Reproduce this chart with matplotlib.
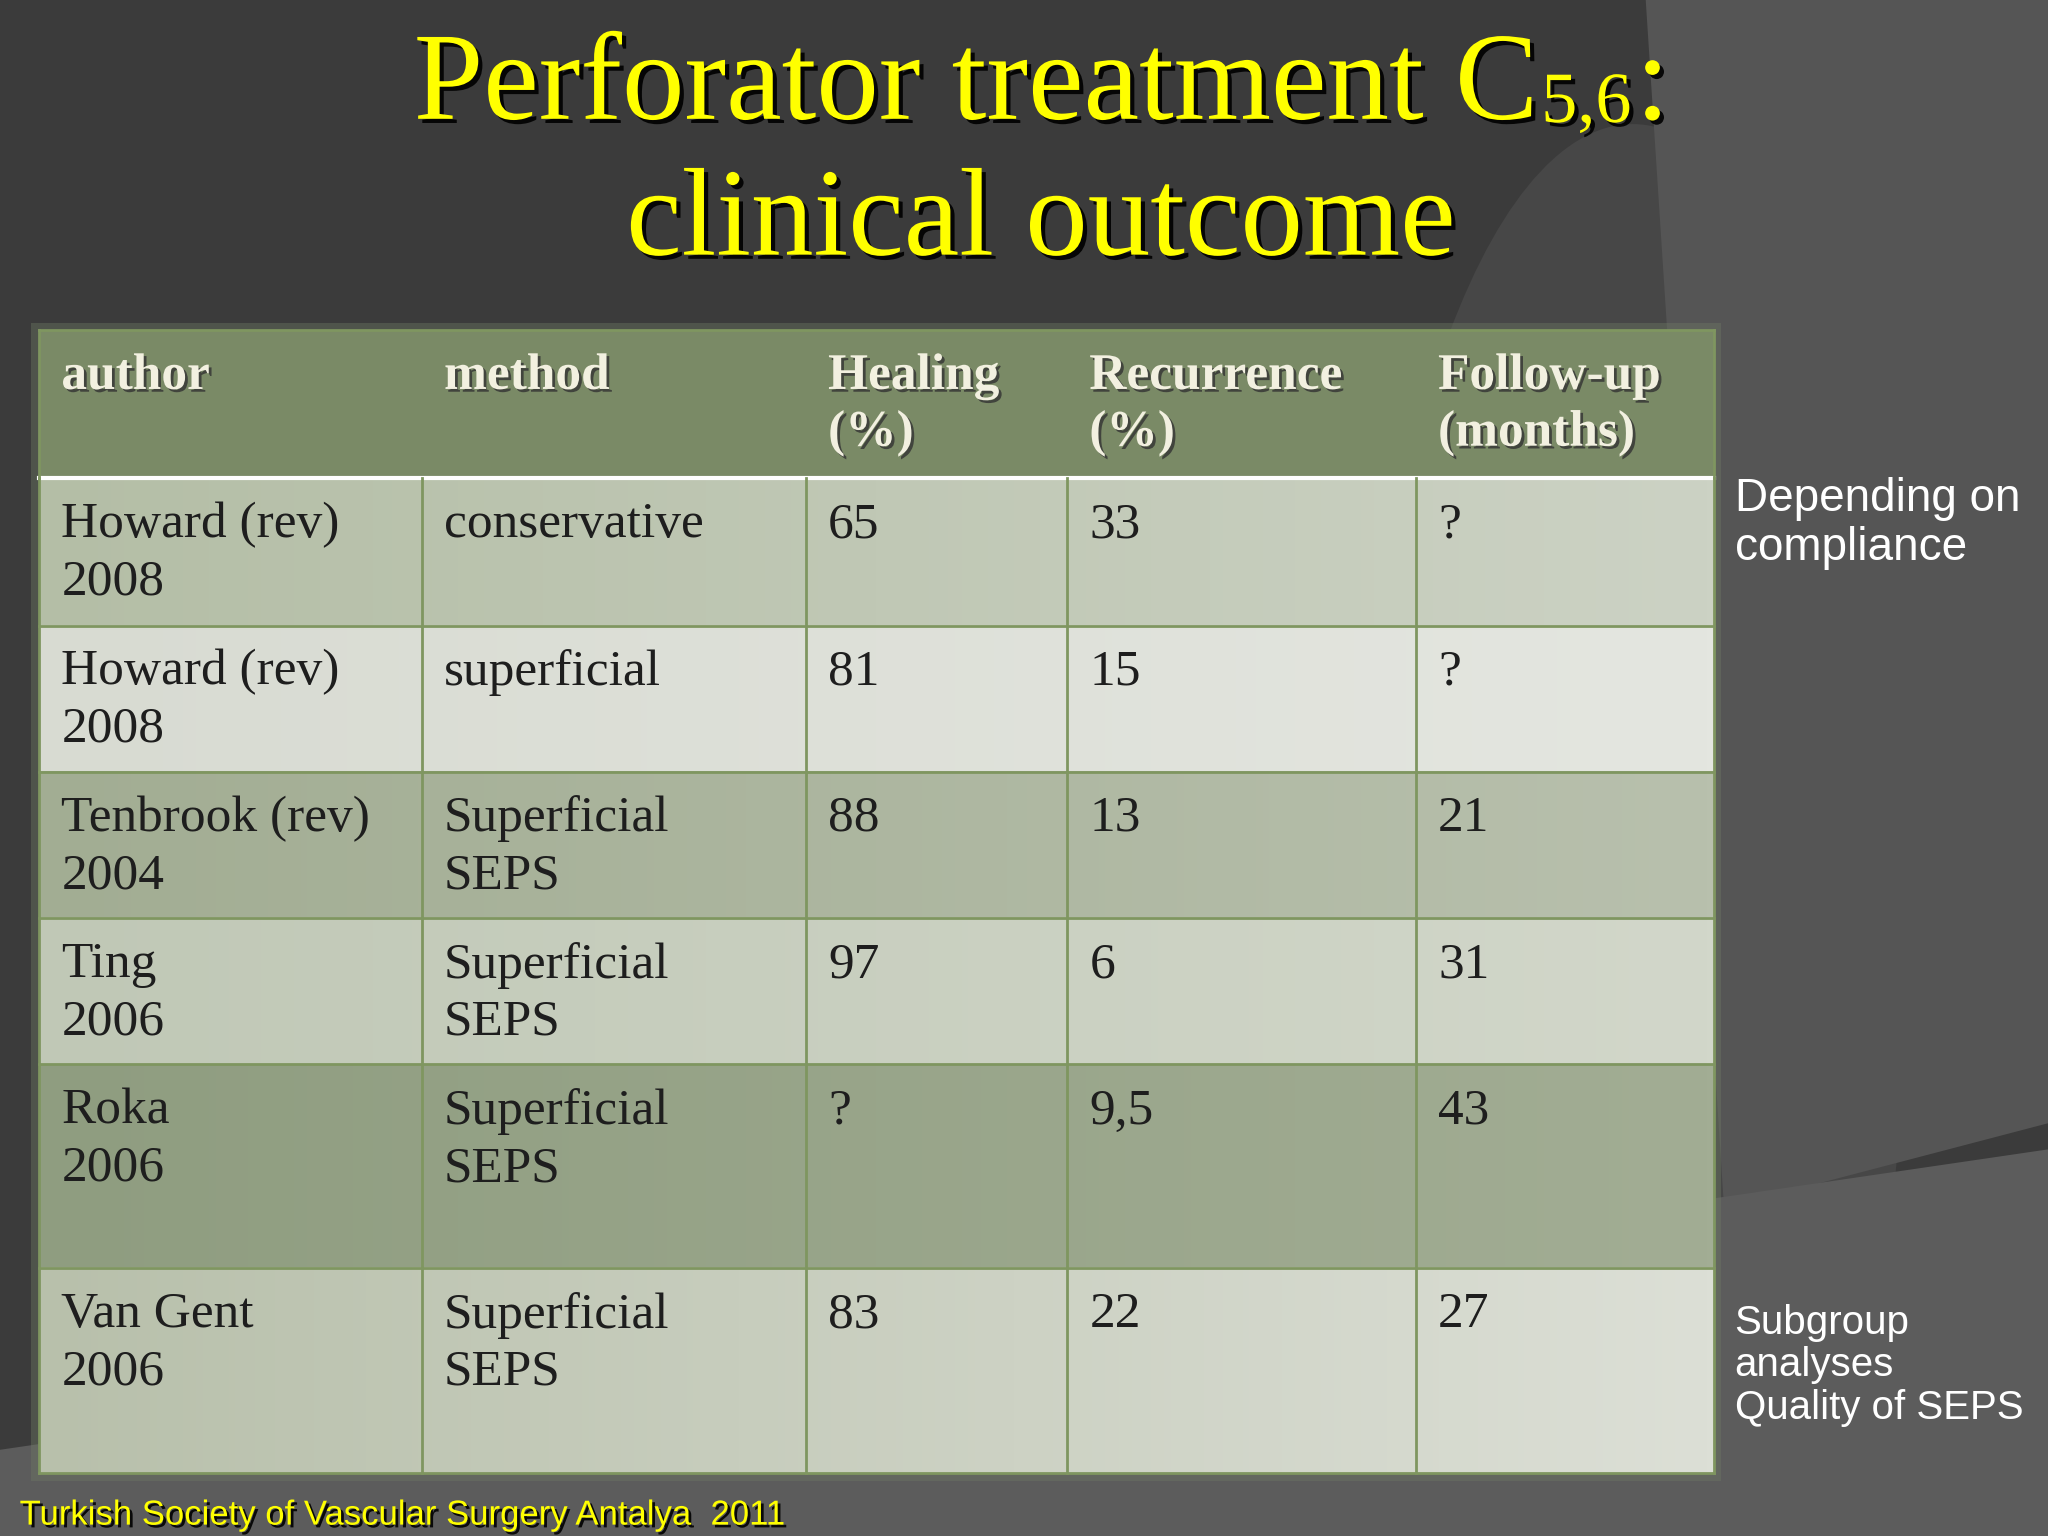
import matplotlib
matplotlib.use("Agg")
import matplotlib.pyplot as plt
import matplotlib.patheffects as pe
from matplotlib.patches import Polygon, Rectangle, Ellipse
import numpy as np

# table content
headers = ["author", "method", "Healing\n(%)", "Recurrence\n(%)", "Follow-up\n(months)"]
authors = ["Howard (rev)\n2008", "Howard (rev)\n2008", "Tenbrook (rev)\n2004",
           "Ting\n2006", "Roka\n2006", "Van Gent\n2006"]
methods = ["conservative", "superficial", "Superficial\nSEPS", "Superficial\nSEPS",
           "Superficial\nSEPS", "Superficial\nSEPS"]
healing = ["65", "81", "88", "97", "?", "83"]
recurrence = ["33", "15", "13", "6", "9,5", "22"]
followup = ["?", "?", "21", "31", "43", "27"]

# layout in reference pixel space (1568 x 1176)
col_edges = [30, 323, 617, 817, 1084, 1312]
row_edges = [253, 366, 479, 591, 703, 815, 971, 1128]
row_colors = [("#b4bea6", "#ccd2c4"), ("#d8dbd2", "#e4e6e0"), ("#a2ad93", "#b8c0ad"),
              ("#c0c8b6", "#d2d7ca"), ("#8f9d80", "#a2ad94"), ("#b8c0ab", "#dcdfd6")]

fig = plt.figure(figsize=(20.48, 15.36), dpi=100)
ax = fig.add_axes([0, 0, 1, 1])
ax.set_xlim(0, 1568)
ax.set_ylim(1176, 0)
ax.axis("off")
fig.patch.set_facecolor("#3b3b3b")

# background swooshes
ax.add_patch(Ellipse((1250, 720), 420, 1250, facecolor="#474747", edgecolor="none", zorder=0))
ax.add_patch(Polygon([[1260, 0], [1568, 0], [1568, 860], [1320, 925]], closed=True,
                     facecolor="#555555", edgecolor="none", zorder=0.5))
ax.add_patch(Polygon([[0, 1110], [1568, 880], [1568, 1176], [0, 1176]], closed=True,
                     facecolor="#5c5c5c", edgecolor="none", zorder=0.6))
ax.add_patch(Rectangle((24, 247), 1294, 887, facecolor="#6f7a65", edgecolor="none", zorder=1, alpha=0.4))

shadow = [pe.SimplePatchShadow(offset=(3, -3), shadow_rgbFace="black", alpha=0.9), pe.Normal()]

# title
ax.text(1178, 68, "Perforator treatment C", color="#ffff00", fontsize=90, family="Liberation Serif",
        ha="right", va="center", path_effects=shadow, zorder=5)
ax.text(1180, 80, "5,6", color="#ffff00", fontsize=52, family="Liberation Serif",
        ha="left", va="center", path_effects=shadow, zorder=5)
ax.text(1252, 68, ":", color="#ffff00", fontsize=90, family="Liberation Serif",
        ha="left", va="center", path_effects=shadow, zorder=5)
ax.text(797, 172, "clinical outcome", color="#ffff00", fontsize=90, family="Liberation Serif",
        ha="center", va="center", path_effects=shadow, zorder=5)

# header row
ax.add_patch(Rectangle((col_edges[0], row_edges[0]), col_edges[-1] - col_edges[0],
                       row_edges[1] - row_edges[0], facecolor="#7a8a66", edgecolor="none", zorder=2))
hdr_fx = [pe.SimplePatchShadow(offset=(2, -2), shadow_rgbFace="#333333", alpha=0.8), pe.Normal()]
for j, h in enumerate(headers):
    ax.text(col_edges[j] + 17, row_edges[0] + 18, h, color="#f2f0e0", fontsize=37,
            family="Liberation Serif", weight="bold", ha="left", va="top",
            linespacing=1.3, path_effects=hdr_fx, zorder=5)
ax.plot([col_edges[0], col_edges[-1]], [row_edges[1], row_edges[1]], color="white", lw=3, zorder=4)

# body rows with horizontal gradient
for i in range(len(authors)):
    c0, c1 = row_colors[i]
    grad = np.linspace(0, 1, 256)[None, :]
    cmap = matplotlib.colors.LinearSegmentedColormap.from_list("r", [c0, c1])
    ax.imshow(grad, cmap=cmap, aspect="auto", zorder=2,
              extent=[col_edges[0], col_edges[-1], row_edges[i + 2], row_edges[i + 1]])
    vals = [authors[i], methods[i], healing[i], recurrence[i], followup[i]]
    for j, v in enumerate(vals):
        ax.text(col_edges[j] + 17, row_edges[i + 1] + 18, v, color="#1e1e1e", fontsize=37,
                family="Liberation Serif", ha="left", va="top", linespacing=1.3, zorder=5)

# grid lines
for y in row_edges[2:]:
    ax.plot([col_edges[0], col_edges[-1]], [y, y], color="#7f9660", lw=2, zorder=4)
for x in col_edges:
    ax.plot([x, x], [row_edges[1], row_edges[-1]], color="#7f9660", lw=2, zorder=4)
ax.plot([col_edges[0], col_edges[0]], [row_edges[0], row_edges[1]], color="#7f9660", lw=2, zorder=4)
ax.plot([col_edges[-1], col_edges[-1]], [row_edges[0], row_edges[1]], color="#7f9660", lw=2, zorder=4)
ax.plot([col_edges[0], col_edges[-1]], [row_edges[0], row_edges[0]], color="#7f9660", lw=2, zorder=4)

# side notes
ax.text(1328, 365, "Depending on\ncompliance", color="white", fontsize=33,
        family="Liberation Sans", ha="left", va="top", linespacing=1.15, zorder=5)
ax.text(1328, 998, "Subgroup\nanalyses\nQuality of SEPS", color="white", fontsize=29,
        family="Liberation Sans", ha="left", va="top", linespacing=1.15, zorder=5)

# footer
ax.text(15, 1160, "Turkish Society of Vascular Surgery Antalya  2011", color="#ffff00", fontsize=25,
        family="Liberation Sans", ha="left", va="center",
        path_effects=[pe.SimplePatchShadow(offset=(2, -2), shadow_rgbFace="black", alpha=0.9), pe.Normal()],
        zorder=5)

fig.savefig("out.png", dpi=100, facecolor=fig.get_facecolor())
